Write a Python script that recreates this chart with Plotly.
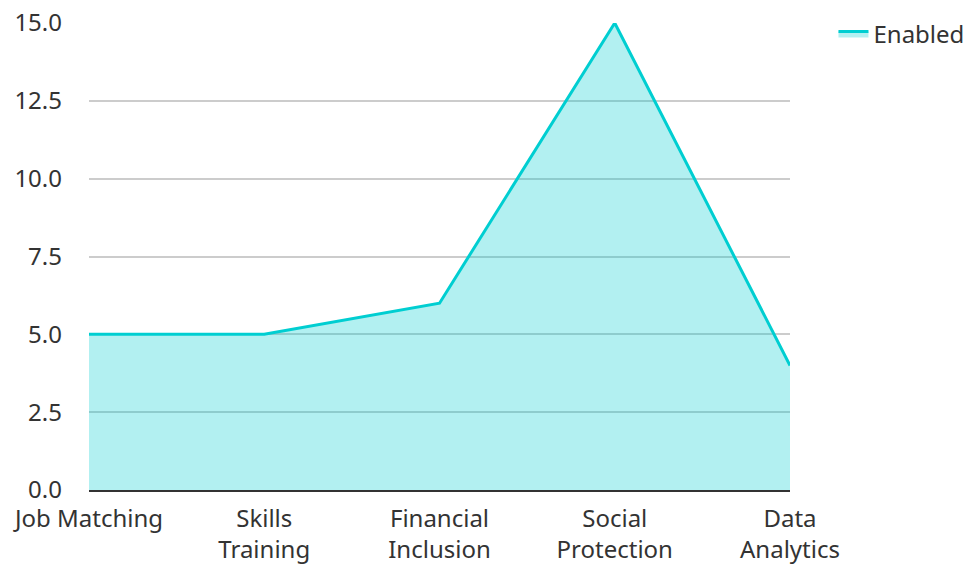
import plotly.graph_objects as go

categories = ["Job Matching", "Skills<br>Training", "Financial<br>Inclusion", "Social<br>Protection", "Data<br>Analytics"]
enabled = [5, 5, 6, 15, 4]
y_ticks = [0, 2.5, 5, 7.5, 10, 12.5, 15]

fig = go.Figure()
fig.add_trace(go.Scatter(
    x=list(range(len(categories))), y=enabled, name="Enabled",
    mode="lines", fill="tozeroy",
    line=dict(color="#00CED1", width=3),
    fillcolor="rgba(0,206,209,0.3)",
))

fig.update_layout(
    width=971, height=564,
    margin=dict(l=81, r=189, t=15, b=82, autoexpand=False),
    paper_bgcolor="white", plot_bgcolor="white",
    font=dict(family="Noto Sans", size=24, color="#333333"),
    showlegend=True,
    legend=dict(x=1.062, y=1.025, xanchor="left", yanchor="top",
                font=dict(size=24, color="#333333"), bgcolor="rgba(0,0,0,0)"),
)
fig.update_xaxes(
    tickmode="array", tickvals=list(range(len(categories))), ticktext=categories,
    range=[0, len(categories) - 1], showgrid=False, zeroline=False,
    showline=True, linecolor="#333333", linewidth=2, ticks="",
    ticklabelstandoff=6, ticklabeloverflow="allow",
)
fig.update_yaxes(
    range=[0, 15], tickmode="array", tickvals=y_ticks, tickformat=".1f",
    showgrid=True, gridcolor="#cccccc", gridwidth=1.5, zeroline=False,
    showline=False, ticks="", ticklabelstandoff=26, ticklabeloverflow="allow",
)

fig.write_html("out.html")
